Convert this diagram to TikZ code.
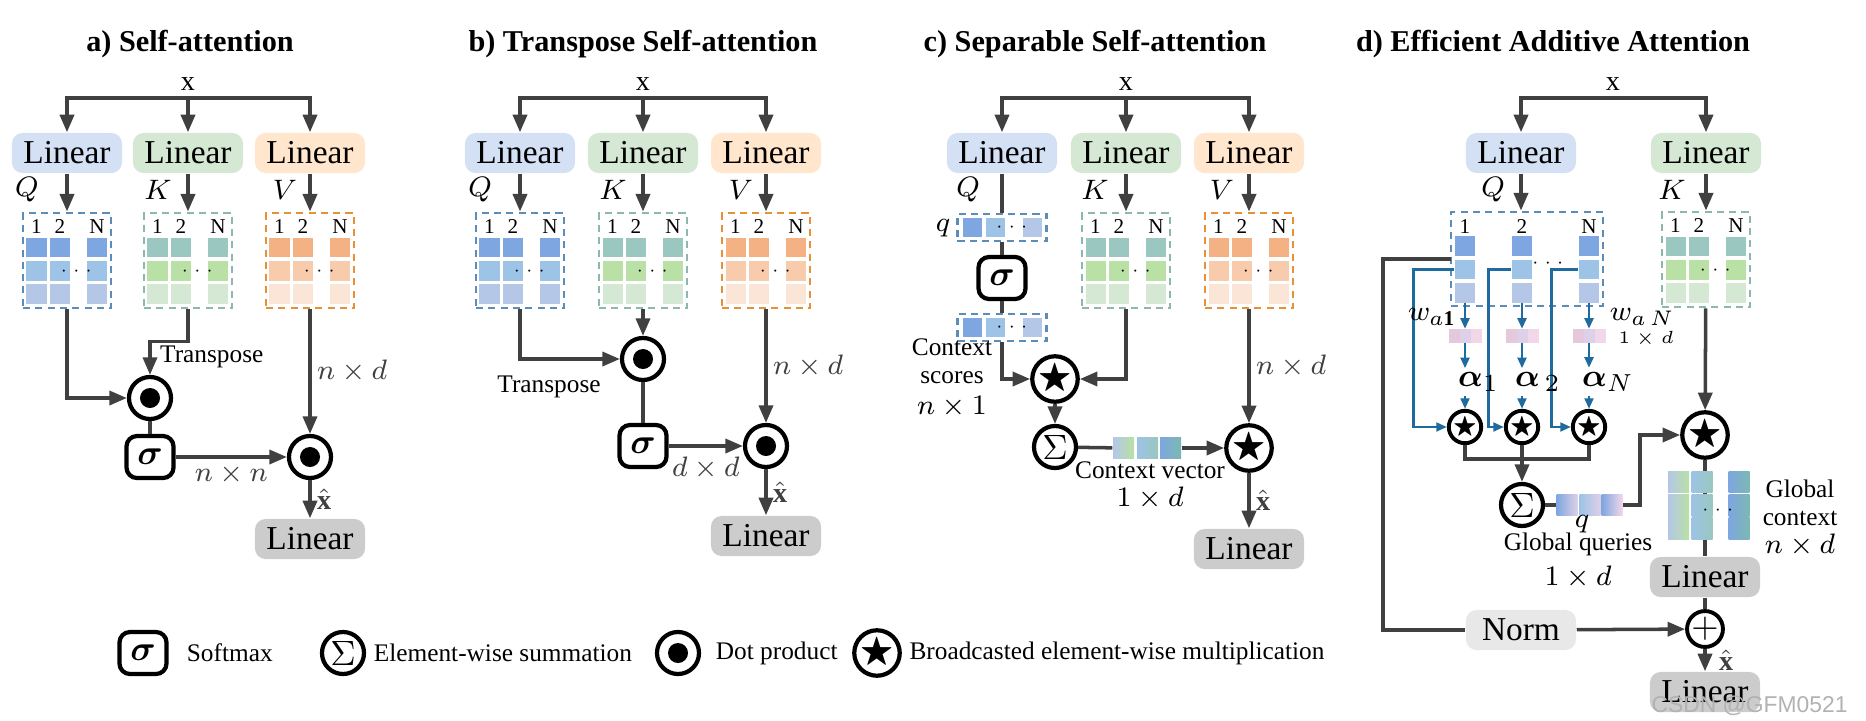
\documentclass[tikz,border=0pt]{standalone}
\usepackage{amsmath,amssymb}
\usepackage{fontspec}
\setmainfont{Liberation Serif}
\newfontfamily\wmfont{Liberation Sans}
\usepackage{tikz}
\usetikzlibrary{
  arrows.meta,
  positioning,
  calc,
  shapes.geometric
}
\definecolor{qa}{HTML}{7EA6E0}
\definecolor{qb}{HTML}{9DC3E6}
\definecolor{qc}{HTML}{B4C7E7}
\definecolor{qd}{HTML}{5B8DB8}
\definecolor{ka}{HTML}{9AC7BF}
\definecolor{kb}{HTML}{B9E0A5}
\definecolor{kc}{HTML}{D5E8D4}
\definecolor{kd}{HTML}{8DB8B0}
\definecolor{va}{HTML}{F4B183}
\definecolor{vb}{HTML}{F8CBAD}
\definecolor{vc}{HTML}{FBE5D6}
\definecolor{vd}{HTML}{E69138}
\definecolor{qlin}{HTML}{D4E1F5}
\definecolor{klin}{HTML}{D5E8D4}
\definecolor{vlin}{HTML}{FFE6CC}
\definecolor{outlin}{HTML}{CCCCCC}
\definecolor{normfill}{HTML}{E8E8E8}
\definecolor{linecol}{HTML}{404040}
\definecolor{bluel}{HTML}{1F6A9E}
\definecolor{pka}{HTML}{E6C8DC}
\definecolor{pkb}{HTML}{DED0E8}
\definecolor{pkc}{HTML}{F2D6EA}
\newcommand{\lblsize}{\fontsize{7.2}{8}\selectfont}
\newcommand{\nsize}{\fontsize{8}{9}\selectfont}
\newcommand{\linsize}{\fontsize{9.5}{10}\selectfont}
\newcommand{\ttlsize}{\fontsize{8.6}{10}\selectfont\bfseries}

% matrix of Q/K/V with dashed frame: name, centre x, top y, colour prefix
\newcommand{\tmat}[4]{%
  \node[mframe, draw=#4d] (#1) at (#2,#3+47.5) {};
  \foreach \r/\dy in {a/-13,b/10.5,c/33.5}
    \foreach \dx in {-30.5,-7,30}
      \node[cell, fill=#4\r] at (#2+\dx,#3+47.5+\dy) {};
  \node[hdr] at (#2-30.5,#3+14) {1};
  \node[hdr] at (#2-7,#3+14) {2};
  \node[hdr] at (#2+30,#3+14) {N};
  \node[dots] at (#2+11.5,#3+58) {$\cdots$};
}

\begin{document}
\begin{tikzpicture}[
  x=0.01cm, y=-0.01cm,
  lin/.style={rounded corners=3pt, minimum width=1.1cm, minimum height=0.4cm,
              inner sep=0pt, font=\linsize},
  mframe/.style={dashed, dash pattern=on 2pt off 1.5pt, line width=0.8pt,
                 minimum width=0.88cm, minimum height=0.95cm, inner sep=0pt},
  cell/.style={minimum width=0.2cm, minimum height=0.19cm, inner sep=0pt},
  pcell/.style={minimum width=0.11cm, minimum height=0.13cm, inner sep=0pt},
  hdr/.style={font=\fontsize{6}{7}\selectfont, inner sep=0pt},
  dots/.style={font=\tiny, inner sep=0pt},
  op/.style={circle, draw, line width=1.2pt, minimum size=0.42cm, inner sep=0pt},
  sop/.style={circle, draw, line width=1.1pt, minimum size=0.3cm, inner sep=0pt},
  dotop/.style={op, path picture={\fill (path picture bounding box.center) circle (0.1cm);}},
  sbox/.style={draw, line width=1.2pt, rounded corners=3pt, minimum width=0.47cm,
               minimum height=0.42cm, inner sep=0pt},
  arr/.style={-{Triangle[length=5pt,width=4pt]}, line width=1pt, linecol},
  ln/.style={line width=1pt, linecol},
  barr/.style={-{Triangle[length=3pt,width=2.5pt]}, line width=0.7pt, bluel},
  lbl/.style={font=\lblsize, inner sep=1pt},
  nlbl/.style={font=\nsize, inner sep=1.5pt},
  mlbl/.style={font=\linsize, inner sep=1pt},
  ttl/.style={font=\ttlsize},
]
\useasboundingbox (0,0) rectangle (1866,721);

% a) Self-attention
\node[ttl] (ta) at (190,44) {a) Self-attention};
\node[nlbl] (xla) at (188,84) {x};
\coordinate (xa) at (188,98);
\node[lin, fill=qlin] (qa) at (67,153) {Linear};
\node[lin, fill=klin] (ka) at (188,153) {Linear};
\node[lin, fill=vlin] (va) at (310,153) {Linear};
\draw[arr] (xa) -| (qa);
\draw[arr] (xa) -- (ka);
\draw[arr] (xa) -| (va);
\node[nlbl] at (27,190) {$Q$};
\node[nlbl] at (158,190) {$K$};
\node[nlbl] at (285,190) {$V$};
\tmat{qma}{67}{213}{q}
\tmat{kma}{188}{213}{k}
\tmat{vma}{310}{213}{v}
\draw[arr] (qa) -- (qma);
\draw[arr] (ka) -- (kma);
\draw[arr] (va) -- (vma);
\node[dotop] (da1) at (150,398) {};
\node[sbox] (sa) at (150,457) {$\boldsymbol{\sigma}$};
\node[dotop] (da2) at (310,457) {};
\node[lin, fill=outlin] (oa) at (310,539) {Linear};
\draw[arr] (qma.south) |- (da1.west);
\draw[arr] (kma.south) -- ++(0,32) -| (da1.north);
\node[lbl, anchor=west] at (156,357) {Transpose};
\draw[ln] (da1) -- (sa);
\draw[arr] (sa) -- (da2) node[midway, below, nlbl] {$n\times n$};
\draw[arr] (vma) -- (da2) node[midway, right, nlbl] {$n\times d$};
\draw[arr] (da2) -- (oa) node[midway, right, nlbl] {$\hat{\mathbf{x}}$};

% b) Transpose Self-attention
\node[ttl] (tb) at (643,44) {b) Transpose Self-attention};
\node[nlbl] (xlb) at (643,84) {x};
\coordinate (xb) at (643,98);
\node[lin, fill=qlin] (qb) at (520,153) {Linear};
\node[lin, fill=klin] (kb) at (643,153) {Linear};
\node[lin, fill=vlin] (vb) at (766,153) {Linear};
\draw[arr] (xb) -| (qb);
\draw[arr] (xb) -- (kb);
\draw[arr] (xb) -| (vb);
\node[nlbl] at (480,190) {$Q$};
\node[nlbl] at (613,190) {$K$};
\node[nlbl] at (741,190) {$V$};
\tmat{qmb}{520}{213}{q}
\tmat{kmb}{643}{213}{k}
\tmat{vmb}{766}{213}{v}
\draw[arr] (qb) -- (qmb);
\draw[arr] (kb) -- (kmb);
\draw[arr] (vb) -- (vmb);
\node[dotop] (db1) at (643,359) {};
\node[sbox] (sb) at (643,446) {$\boldsymbol{\sigma}$};
\node[dotop] (db2) at (766,446) {};
\node[lin, fill=outlin] (ob) at (766,536) {Linear};
\draw[arr] (qmb.south) |- (db1.west);
\draw[arr] (kmb) -- (db1);
\node[lbl] at (549,387) {Transpose};
\draw[ln] (db1) -- (sb);
\draw[arr] (sb) -- (db2) node[midway, below=1pt, nlbl] {$d\times d$};
\draw[arr] (vmb) -- (db2) node[midway, right, nlbl] {$n\times d$};
\draw[arr] (db2) -- (ob) node[midway, right, nlbl] {$\hat{\mathbf{x}}$};

% c) Separable Self-attention
\node[ttl] (tc) at (1095,44) {c) Separable Self-attention};
\node[nlbl] (xlc) at (1126,84) {x};
\coordinate (xc) at (1126,98);
\node[lin, fill=qlin] (qc) at (1002,153) {Linear};
\node[lin, fill=klin] (kc) at (1126,153) {Linear};
\node[lin, fill=vlin] (vc) at (1249,153) {Linear};
\draw[arr] (xc) -| (qc);
\draw[arr] (xc) -- (kc);
\draw[arr] (xc) -| (vc);
\node[nlbl] at (968,190) {$Q$};
\node[nlbl] at (1095,190) {$K$};
\node[nlbl] at (1222,190) {$V$};
\tmat{kmc}{1126}{213}{k}
\tmat{vmc}{1249}{213}{v}
\draw[arr] (kc) -- (kmc);
\draw[arr] (vc) -- (vmc);
\foreach \n/\y in {qv1/227.5, qv2/327.5} {
  \node[mframe, draw=qd, minimum width=0.89cm, minimum height=0.27cm] (\n) at (1002,\y) {};
  \node[cell, fill=qa, minimum width=0.19cm] at (972.5,\y) {};
  \node[cell, fill=qb, minimum width=0.19cm] at (995.5,\y) {};
  \node[cell, fill=qc, minimum width=0.19cm] at (1032.5,\y) {};
  \node[dots] at (1014,\y) {$\cdots$};
}
\node[nlbl] at (943,228) {$q$};
\node[sbox] (sc) at (1002,278) {$\boldsymbol{\sigma}$};
\draw[ln] (qc) -- (qv1);
\draw[ln] (qv1) -- (sc);
\draw[ln] (sc) -- (qv2);
\node[lbl, align=center] at (952,378) {Context\\scores\\[1pt]{\nsize$n\times 1$}};
\node[op] (stc1) at (1055,379) {$\bigstar$};
\node[op] (smc) at (1055,447) {$\Sigma$};
\node[op] (stc2) at (1249,448) {$\bigstar$};
\draw[arr] (qv2.south) |- (stc1.west);
\draw[arr] (kmc.south) |- (stc1.east);
\draw[arr] (stc1) -- (smc);
\node[cell, minimum width=0.21cm, minimum height=0.2cm, left color=qc, right color=kb] (cv1) at (1123.5,448) {};
\node[cell, minimum width=0.21cm, minimum height=0.2cm, left color=qb, right color=ka] (cv2) at (1147.5,448) {};
\node[cell, minimum width=0.21cm, minimum height=0.2cm, left color=qa, right color=ka!80!teal] (cv3) at (1170.5,448) {};
\draw[ln] (smc) -- (cv1);
\draw[arr] (cv3) -- (stc2);
\node[lbl, align=center] at (1150,486) {Context vector\\{\nsize$1\times d$}};
\draw[arr] (vmc) -- (stc2) node[midway, right, nlbl] {$n\times d$};
\node[lin, fill=outlin] (oc) at (1249,549) {Linear};
\draw[arr] (stc2) -- (oc) node[midway, right, nlbl] {$\hat{\mathbf{x}}$};

% d) Efficient Additive Attention
\node[ttl] (td) at (1553,44) {d) Efficient Additive Attention};
\node[nlbl] (xld) at (1613,84) {x};
\coordinate (xd) at (1613,98);
\node[lin, fill=qlin] (qd) at (1521,153) {Linear};
\node[lin, fill=klin] (kd) at (1706,153) {Linear};
\draw[arr] (xd) -| (qd);
\draw[arr] (xd) -| (kd);
\node[nlbl] at (1493,190) {$Q$};
\node[nlbl] at (1672,190) {$K$};
\node[mframe, draw=qd, minimum width=1.52cm, minimum height=0.94cm] (qbig) at (1527,259) {};
\draw[arr] (qd) -- (qd |- qbig.north);
\tmat{kmd}{1706}{212}{k}
\draw[arr] (kd) -- (kmd);
\node[dots] at (1550,263) {$\cdots$};
\foreach \i/\x/\h/\off in {1/1465/1/-41, 2/1522/2/-23, 3/1589/N/-27} {
  \node[hdr] at (\x,227) {\h};
  \node[cell, fill=qa] (c\i1) at (\x,246) {};
  \node[cell, fill=qb] (c\i2) at (\x,269.5) {};
  \node[cell, fill=qc] (c\i3) at (\x,293) {};
  \node[pcell, fill=pka] at (\x-11,336) {};
  \node[pcell, fill=pkb] at (\x,336) {};
  \node[pcell, fill=pkc] at (\x+11,336) {};
  \node[pcell, minimum width=0.34cm] (w\i) at (\x,336) {};
  \node[sop] (st\i) at (\x,427) {\scriptsize$\bigstar$};
  \draw[barr] (c\i3) -- (w\i);
  \draw[barr] (c\i2.west) -- ++(\off,0) |- (st\i.west);
}
\node[mlbl, anchor=west] (a1) at (1454,382) {$\boldsymbol{\alpha}_{1}$};
\node[mlbl, anchor=west] (a2) at (1511,382) {$\boldsymbol{\alpha}_{\,2}$};
\node[mlbl, anchor=west] (a3) at (1578,382) {$\boldsymbol{\alpha}_{N}$};
\foreach \i in {1,2,3} {
  \draw[barr] (w\i) -- (w\i |- a\i.north);
  \draw[barr] (w\i |- a\i.south) -- (st\i);
}
\node[nlbl, anchor=east] at (1462,317) {$w_{a\mathbf{1}}$};
\node[nlbl, anchor=west] at (1604,317) {$w_{a\,N}$};
\node[lbl, font=\fontsize{5.5}{6}\selectfont] at (1646,339) {$1\times d$};
\node[op] (sm) at (1522,505) {$\Sigma$};
\draw[ln] (st1.south) -- ++(0,14) -| (st3.south);
\draw[arr] (st2) -- (sm);
\node[cell, minimum width=0.21cm, minimum height=0.2cm, left color=qa, right color=pkb] (gq1) at (1567,505) {};
\node[cell, minimum width=0.21cm, minimum height=0.2cm, left color=qb, right color=pkb] (gq2) at (1590,505) {};
\node[cell, minimum width=0.21cm, minimum height=0.2cm, left color=qa, right color=pkc] (gq3) at (1612,505) {};
\draw[ln] (sm) -- (gq1);
\node[op] (bst) at (1705,435) {$\bigstar$};
\draw[arr] (gq3.east) -- ++(17,0) |- (bst.west);
\draw[arr] (kmd) -- (bst);
\node[nlbl] at (1582,524) {$q$};
\node[lbl, align=center] at (1578,561) {Global queries\\[2pt]{\nsize$1\times d$}};
\node[lin, fill=outlin] (ld) at (1705,577) {Linear};
\draw[ln] (bst) -- (ld);
\foreach \x/\ca/\cb in {1678.5/qc/kb, 1702/qb/ka, 1739/qa/ka!80!teal}
  \foreach \y in {482,505.5,528.5}
    \node[cell, minimum width=0.21cm, minimum height=0.21cm, left color=\ca, right color=\cb] at (\x,\y) {};
\node[dots] at (1720,510) {$\cdots$};
\node[lbl, align=center] at (1800,518) {Global\\context\\{\nsize$n\times d$}};
\node[lin, fill=normfill] (norm) at (1521,630) {Norm};
\node[sop, minimum size=0.32cm] (pl) at (1705,629) {$+$};
\coordinate (qtap) at (1451,259);
\draw[ln] (qtap) -- ++(-68,0) |- (norm);
\draw[arr] (norm) -- (pl);
\draw[ln] (ld) -- (pl);
\node[lin, fill=outlin] (od) at (1705,692) {Linear};
\draw[arr] (pl) -- (od) node[midway, right=2pt, nlbl] {$\hat{\mathbf{x}}$};

% legend
\node[sbox] (lg1) at (143,653) {$\boldsymbol{\sigma}$};
\node[lbl, right=4pt of lg1] {Softmax};
\node[op] (lg2) at (343,653) {$\Sigma$};
\node[lbl, right=1pt of lg2] {Element-wise summation};
\node[dotop] (lg3) at (678,653) {};
\node[lbl, right=3pt of lg3] {Dot product};
\node[op] (lg4) at (877,653) {$\bigstar$};
\node[lbl, right=1pt of lg4] {Broadcasted element-wise multiplication};

\node[font=\wmfont\fontsize{6.5}{7}\selectfont, text=gray!60, anchor=east] (wm) at (1860,706) {CSDN @GFM0521};
\end{tikzpicture}
\end{document}
